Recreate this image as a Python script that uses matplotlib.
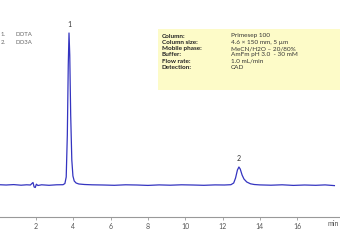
import matplotlib
matplotlib.use('Agg')
import matplotlib.pyplot as plt

# chromatogram trace (time in min, detector signal)
time_min = [0.0, 0.4, 0.8, 1.2, 1.5, 1.7, 1.78, 1.84, 1.9, 1.96, 2.02, 2.1, 2.3, 2.7, 3.1, 3.45,
            3.55, 3.62, 3.68, 3.73, 3.77, 3.81, 3.86, 3.92, 3.98, 4.05, 4.15, 4.3, 4.6, 5.0,
            5.6, 6.2, 6.8, 7.4, 8.0, 8.6, 9.2, 9.8, 10.4, 11.0, 11.6, 12.1, 12.45, 12.6, 12.7,
            12.8, 12.88, 12.95, 13.05, 13.15, 13.3, 13.5, 13.7, 14.0, 14.6, 15.2, 15.8, 16.4,
            17.0, 17.5, 18.0]
signal = [0.3, 0.0, 0.4, -0.2, 0.2, 0.0, 1.5, 2.5, -2.0, -2.5, 0.8, -0.5, 0.2, -0.3, 0.2, 0.3,
          1.5, 8, 50, 120, 152, 130, 70, 25, 9, 4, 2, 1.0, 0.5, 0.2,
          0.0, -0.3, 0.2, 0.0, -0.4, 0.1, -0.2, 0.2, 0.0, -0.3, 0.1, 0.0, 0.3, 2, 7,
          15, 18, 16, 10, 6, 3, 1.2, 0.5, 0.1, -0.2, 0.2, -0.4, 0.0,
          -0.3, 0.1, -0.6]

peak_times = [3.77, 12.88]
peak_heights = [152, 18]
peak_labels = ['1', '2']

legend_nums = ['1.', '2.']
legend_names = ['DOTA', 'DO3A']

info_keys = ['Column:', 'Column size:', 'Mobile phase:', 'Buffer:', 'Flow rate:', 'Detection:']
info_vals = ['Primesep 100', '4.6 \u00d7 150 mm, 5 \u00b5m', 'MeCN/H2O \u2013 20/80%',
             'AmFm pH 3.0  - 30 mM', '1.0 mL/min', 'CAD']

xticks = [2, 4, 6, 8, 10, 12, 14, 16]

plt.rcParams['font.family'] = ['Lato', 'DejaVu Sans']

fig = plt.figure(figsize=(3.4, 2.4), dpi=100)
ax = fig.add_axes([0, 23 / 240, 1, 217 / 240])
ax.plot(time_min, signal, color='#3434c0', lw=0.9)
ax.set_xlim(0.07, 18.3)
ax.set_ylim(-32, 185)

for t, h, lab in zip(peak_times, peak_heights, peak_labels):
    ax.text(t, h + 5, lab, ha='center', va='bottom', fontsize=5, color='#333333')

for s in ['top', 'right', 'left']:
    ax.spines[s].set_visible(False)
ax.spines['bottom'].set_color('#999999')
ax.spines['bottom'].set_linewidth(0.8)
ax.set_yticks([])
ax.set_xticks(xticks)
ax.set_xticklabels([str(v) for v in xticks])
ax.tick_params(axis='x', colors='#999999', labelcolor='#555555', labelsize=5,
               length=2.5, width=0.6, pad=2)
fig.text(339 / 340, 17 / 240, 'min', fontsize=5, color='#555555', ha='right', va='center')

# legend top left
for i, (n, name) in enumerate(zip(legend_nums, legend_names)):
    y = 1 - (35 + 7 * i) / 240
    fig.text(1 / 340, y, n, fontsize=4.3, color='#666666', va='center')
    fig.text(15 / 340, y, name, fontsize=4.3, color='#666666', va='center')

# conditions box
fig.patches.append(plt.Rectangle((158 / 340, 1 - 90 / 240), 182 / 340, 61 / 240,
                                 transform=fig.transFigure, facecolor='#fdfbc8',
                                 edgecolor='none', zorder=0))
for i, (k, v) in enumerate(zip(info_keys, info_vals)):
    y = 1 - (36 + 6.3 * i) / 240
    fig.text(162 / 340, y, k, fontsize=4.6, fontweight='bold', color='#222222', va='center')
    fig.text(231 / 340, y, v, fontsize=4.6, color='#333333', va='center')

fig.savefig('out.png', dpi=100)
